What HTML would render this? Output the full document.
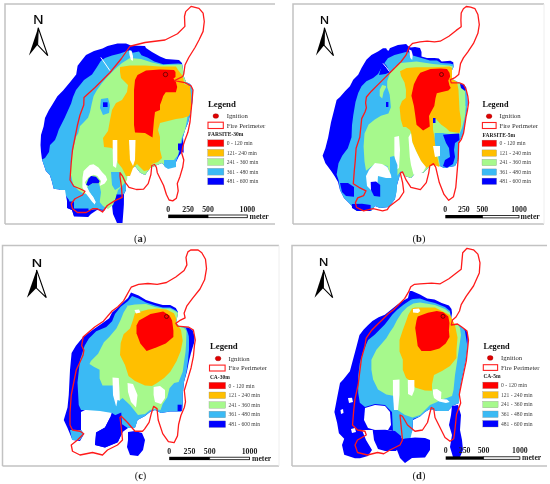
<!DOCTYPE html>
<html><head><meta charset="utf-8"><title>Fire spread simulation maps</title>
<style>html,body{margin:0;padding:0;background:#fff;width:550px;height:484px;overflow:hidden}svg{display:block;filter:blur(0.3px)}</style>
</head><body>
<svg width="550" height="484" viewBox="0 0 550 484">
<rect width="550" height="484" fill="#fff"/>
<path d="M5,224 L5,4 L275,4 M5,224 L275,224" stroke="#c2c2c2" stroke-width="1.5" fill="none"/>
<path d="M293,224 L293,4 L544,4 M293,224 L544,224" stroke="#c2c2c2" stroke-width="1.5" fill="none"/><path d="M544,4 L544,224" stroke="#eeeeee" stroke-width="1" fill="none"/>
<path d="M2.5,466 L2.5,245.5 L279,245.5 M2.5,466 L279,466" stroke="#c2c2c2" stroke-width="1.5" fill="none"/><path d="M279,245.5 L279,466" stroke="#eeeeee" stroke-width="1" fill="none"/>
<path d="M292,466 L292,245.5 L547,245.5 M292,466 L547,466" stroke="#c2c2c2" stroke-width="1.5" fill="none"/>
<polygon points="126,43.5 131,45.5 145,46 146,48 152,52 160,56.5 166,59 179,60 182,63 183,70 184,77 186,82 190,84 192,87 193,95 192,105 190,115 188,123 185,130 183,137 183.5,145 182,152 179,156 176,162 170,166 166,167.5 162,163 157,165 150,168 145,175 140,172.5 135,166 128,171 126,178 126,190 124,194 123.5,210 122.5,223 117,223 113,214 112,205 108,205 104,211 97,210 91,214 88,217 74,216 72,210 67,208 67,201 66,196 62,193 59.6,189.5 53.7,188.8 51.8,181 49.8,175 45.9,171 42,159.4 41,152 40.5,145 41,135 43.6,126.5 45,117.9 48.7,110.6 53,103.4 57.4,96.2 63.1,90.4 70.4,81.7 76.2,74.5 77.6,65.8 82,60 86,55 94,51 102.5,48.5 107.5,46 117.5,43.5" fill="#0000ff"/>
<polygon points="127,51 131,50 132.6,52.7 139,51.5 141.5,55.3 147.9,57.8 154.3,61.6 163.2,64.2 178.5,63.5 182,64 183,70 184,77 186,82 190,84 192,87 193,95 192,105 190,115 188,123 185,130 183,137 182,142 180,150 176,162 170,166 166,167.5 162,163 157,165 150,168 145,175 140,172.5 135,166 128,171 126,178 126,190 124,194 121,196 116,196 112,200 108,205 104,210 97,209 91,210 74,210 70,205 69,200 66,196 62,192 59.6,189.5 53.7,188.8 51.8,181 49.8,175 45.9,171 42,159.4 45,158 49,152 50,145 55,140 57,135 58.8,129.4 64.6,117.9 71.1,103.4 73,97 76,90 80,85 84,80 92,74.5 97,67 100.7,61 105,58 112,55.5 120,53.5" fill="#3bbaf4"/>
<polygon points="130,58 141,59 152,62.5 163,65 182,64.5 183,70 184,77 186,82 188,84 188,90 188,100 188,112 187,120 185,130 182,137 180,145 178,155 170,165 166,167 162,163 157,165 150,168 145,175 140,172.5 135,166 128,171 127,180 122,186 118,190 116,197 113,205 108,209 103,206 98,200 95,194 90,194 84,194 78,190 73,184 71,175 71,165 72,155 74,145 76,137 78.2,133.2 80,125.9 84.5,121.4 88,117.7 90,112 91.7,104 93.6,96 97,90 102,83 108,76 115,69 122,63" fill="#a6f98c"/>
<polygon points="101,99 108,98 110,105 109,113 103,115 100,108" fill="#3bbaf4"/>
<polygon points="103,102.3 107.6,102.3 107.6,107 103,107" fill="#0000ff"/>
<polygon points="120,67 130,65.5 145,65.5 160,66.5 176,66.5 178,70 182,75 183.5,79 184,84 190,86 191,95 191,110 189,116 183,118 176,119 168,121 160,123 158,130 160,137 160,150 162,158 158,162 152,164 149,170 144,171 137,164 133,168 130,176 126,176 122,168 118,163 116,155 112,148 104,147 103,138 108,131 110,120 112,110 116,103 122,100 127,92 128,85 121,78 120,72" fill="#ffbf00"/>
<polygon points="146,70.5 160,69.5 174,70 175.5,72 175.5,77 173.4,78.5 175.9,82 177.2,87.1 175.9,92.2 165.7,92.2 163.2,96 161.9,100 160,105 160,110 155,112 154,120 152.5,137.5 145,133 135,132.5 134,125 134,105 134,90 135,80 137.5,75" fill="#ff0000"/>
<polygon points="112.7,140 117.3,140 117.3,160 116,168 113,166 112.7,150" fill="#ffffff"/>
<polygon points="129,140 135.5,140 135,160 133,166 130,160" fill="#ffffff"/>
<polygon points="55,190 65,190 66,196 66,201 58,201 55,196" fill="#ffffff"/>
<polygon points="111,172 120,172 120,187 115,190 112,185" fill="#3bbaf4"/>
<polygon points="164,160 176,160 176,167 168,169 164,166" fill="#3bbaf4"/>
<polygon points="83.6,171.1 86.1,168.6 89.8,164.9 93.5,164.3 98.5,167.4 102.2,172.3 105.9,176.1 107.2,179.8 104.7,183.5 99.7,186 101,181 97.3,176.1 93.5,174.8 88.6,177.3 84.9,182.3 86.1,184.7 87.3,187.2 89.8,192.2 93.5,197.1 96,202.1 94.8,204.6 92.3,202.1 88.6,197.1 84.9,192.2 82.4,187.2 82.5,178" fill="#ffffff"/>
<polygon points="86.1,184.7 88.6,178.5 91.1,176.1 96,176.7 99.7,181 98.5,183.5 92.3,183.5 88.6,186" fill="#0000ff"/>
<polygon points="88.6,186 92.3,183.5 98.5,183.5 99.7,186 101,192.2 99.7,202.1 96,205 94.8,204.6 96,202.1 93.5,197.1 89.8,192.2 87.3,187.2" fill="#3bbaf4"/>
<polygon points="67.4,201.4 74,201.4 74,208.6 88.5,208.6 88.5,216.6 74,216.6 72,210 67.4,208" fill="#0000ff"/>
<polygon points="116.4,194.5 123.6,194.5 123.6,204 122.5,214.5 121,223 117,223 116.4,210" fill="#0000ff"/>
<polygon points="178,143.6 183.6,143.6 183.6,152.7 178,150" fill="#0000ff"/>
<path d="M100.8,57.4 L104,62 L109.9,70.6" stroke="#fff" stroke-width="1" fill="none"/>
<polygon points="129,50.5 131.5,51 133,56 133,60.7 131,60 129.5,55" fill="#ffffff"/>
<path d="M191.1,6.4 L199,8.3 L203.1,13.2 L204.3,21.5 L203.1,31.4 L199,40 L195,47.5 L188.75,57.5 L185,65 L183.75,74 L182.7,76.5 L174.5,80.7 L184.8,82.7 L191,85.8 L193,90 L192,101.3 L191,111.7 L190,122 L187.9,132.3 L184.8,140.6 L182.7,146.8 L181.7,153 L183.8,160 L182.7,167.3 L180,176.4 L177.3,183.6 L178.2,190.9 L176.4,198.2 L172.7,200.9 L169.1,200 L166.4,194.5 L163.6,185.5 L160,178.2 L157.3,172.7 L156.4,167.3 L154.5,164.5 L151.8,165.5 L150.9,174.5 L148.2,183.6 L143.6,189.1 L136.4,189.5 L129,187.3 L125.5,182.7 L122.7,176.4 L120,172.7 L120,176.4 L121.5,187.3 L122.2,197.3 L114.5,200.9 L107.3,205.5 L102.5,212 L97.5,208.75 L92.5,208.75 L86.25,212.5 L77.5,212.5 L72.5,208.75 L71.25,203.75 L75,198.75 L82.5,195 L85,191.25 L80,188.75 L73.75,186.25 L70,180 L71.25,162.5 L72.5,150 L75,137.5 L77.5,125 L80,115 L83.75,105 L84,97.5 L95,87.5 L110,72.5 L121.25,58.75 L130,46.25 L145,42.5 L165,40 L177.5,33.75 L184.9,26.4 L184.5,16.5 L185.7,11.6 Z" fill="none" stroke="#ff1a1a" stroke-width="1.3" stroke-linejoin="round"/>
<circle cx="165.5" cy="74.5" r="2.2" fill="none" stroke="#400" stroke-width="0.7"/>
<polygon points="340,97 345,91.2 349.9,86.3 353.2,79.7 358.2,74.7 361.5,68.1 366.4,59.8 371.4,54.9 378,51.6 383,48.3 389.6,48.3 397.9,45 406.1,44.1 408,46 410.7,47.5 415,47 420,48 421.5,52 421.5,56.4 427,57.9 434.5,57.9 438.8,58.6 441.7,61.5 450.4,60.7 453.3,62.2 453.5,67 452,70 452,79 459.5,83 463.6,84.5 466,89.5 467,96 467.5,103 466,116.5 463.6,133 460,140 458.5,145 458,160 455,166 444,168 440,166 437,163.6 430,166 423,173 418,170 411,178 405,176 401,171 399,178 397,185 395,199 389,207 380,208 375,206 371,211 357,211 352,206 344,198 340,190 338,182 334.7,176.2 331,170.7 325.4,163.2 322.6,155.8 325.4,148.3 328.2,137.2 331,122.3 333.8,111.2 336.6,100" fill="#0000ff"/>
<polygon points="407.8,51.6 411,55 421.5,58 430,60.5 437,60.5 441,63 450,63.5 453.5,64.5 453.5,67 452,70 452,79 459.5,83 463.6,84.5 466,89.5 467,96 467.5,103 466,116.5 463.6,133 460,140 458.5,145 458,160 455,166 444,168 440,166 437,163.6 430,166 423,173 418,170 411,178 405,176 401,171 399,178 397,185 395,199 389,207 380,208 375,206 371,211 357,211 352,206 344,198 340,190 338.5,180 336.6,174.4 338.5,163.2 342.2,155.8 347.8,148.3 351.5,137.2 352,125 353.3,115 355.5,102 358.2,92.9 361.5,86.3 366.4,81.3 373.1,78 378,74 383,65 387.9,58.2 394.5,54.9" fill="#3bbaf4"/>
<polygon points="400,63 416.5,61.4 433.1,63.9 449.6,65.5 453,66.5 452,70 452,79 459.5,83 462,85 465,90 466,96 466,103 465,116 462,128 459.5,134 450,134 440,133 437,138 437,150 440,166 437,163.6 430,166 423,173 418,170 411,178 405,176 401,171 396,177 390.8,175.5 387.3,166 375.5,163.6 366,170.7 364.5,161.4 363.6,146.5 364.5,133.5 366.1,130 368.6,124.5 374.8,119.6 381,115.8 388.4,113.4 390.9,107.2 389.7,94.8 387.2,87.3 387.2,81.2 389.7,73.7 394.5,67" fill="#a6f98c"/>
<polygon points="382.2,84.9 386,86 386,87.3 383.5,92.3 382.2,98.5 379.7,96 379.7,89.8" fill="#a6f98c"/>
<polygon points="400,71.3 406.6,68 416.5,67.2 433,67.2 449.6,66.4 452,68 452,79 457,82 458.5,90 459,100 459.5,110 461,120 461,126 459.5,133 449.6,131.4 446,128 441.3,124.8 436,119 433,121 433,129.8 434.7,138 436.4,152.9 439.5,167 434,165 429.8,166 426,168 421,161 416,151 412.3,142.3 411,132.4 410,130 406,127 403,127 400.8,119.6 399.6,107.2 402,101 405.8,98 406,90 404.5,82.4 401,76" fill="#ffbf00"/>
<polygon points="420.3,72.8 430.5,69 440.6,68.4 447,69 449.5,72.8 450.2,76.6 448.3,80.5 449.5,85.5 450.8,88.1 448.3,90.6 441.9,91.9 436.8,93.2 435.5,98.3 434.3,105.9 431,112 429,116 429.8,126.4 423.1,130.6 416.5,124.8 415.2,115 413.9,105.9 411.4,95.7 413.9,84.3 417.7,76.6" fill="#ff0000"/>
<polygon points="386,102 388.4,102 388.4,107 386,107" fill="#0000ff"/>
<polygon points="394.4,137 399,136 400,150 399,168 396,170 394.4,155" fill="#ffffff"/>
<polygon points="408.5,137.3 411,133 412.3,142.3 416,151 421,160.9 425.9,167.1 423,172 416,175 413.5,174.5 411,165 409.8,157.2" fill="#ffffff"/>
<polygon points="390,157 394,156 397.4,165 397.4,178 393,181 390,175" fill="#3bbaf4"/>
<polygon points="375,163 382,164 387.3,167 391,175 392,183 386,186 380,190 372,191 367,186 366,176 369,170" fill="#ffffff"/>
<polygon points="378,176 386,178 393,178 397,180 396.7,192 394,200 388,206 380,207 376,203 377,190" fill="#3bbaf4"/>
<polygon points="370.7,182 376,181.4 380.2,185 380.2,196.7 374,196 371,190" fill="#0000ff"/>
<polygon points="340,183 348,183 354,187 354,196.7 346,196 342,192" fill="#0000ff"/>
<polygon points="351.8,204 362,203.8 370.7,205 370.7,210.9 357,211 352,208" fill="#0000ff"/>
<polygon points="434.7,133 443,133 448,136 448,150 446,157.9 440,157 436,152 434.7,140" fill="#3bbaf4"/>
<polygon points="433,146 440,146 440,156 435,157" fill="#ffffff"/>
<polygon points="443,134.7 451,134 459,133.5 459.5,140 455,143 454,150 455,157 453,164 447,167.8 443,166 445,160 450,157 449,148 446,143" fill="#0000ff"/>
<polygon points="433,118 435.5,118 435.5,123 433,123" fill="#0000ff"/>
<polygon points="460,84 464,84.5 466.5,88 465,91 461,88" fill="#0000ff"/>
<polygon points="465,90 467,92 467.5,106 465.5,106" fill="#3bbaf4"/>
<polygon points="383,62 386,65 388.2,69.1 390.5,72 385.5,74 379,75 381,68" fill="#0000ff"/>
<path d="M383,63.4 L386.5,67.5 L389.5,71.6" stroke="#fff" stroke-width="1" fill="none"/>
<polygon points="409,49.5 411.5,50.5 412.7,55 412.2,60 410.3,58 409.5,53" fill="#ffffff"/>
<polygon points="386,48.6 388.2,50.9 390,48.5 388,47.5" fill="#ffffff"/>
<path d="M420,41.9 L427.2,41.2 L434.5,41.9 L440.2,41.2 L448.9,36.2 L456.2,30.4 L461.2,26.8 L460.9,20.2 L461.2,13 L463.4,8.7 L466.3,6.5 L470.6,7.2 L475,8.7 L477.9,14.5 L479.3,24.6 L477.9,33.3 L473.5,43.4 L467.7,52.1 L463.4,57.9 L460.5,63.6 L459.5,70 L458.7,74.6 L454.5,77.9 L450.4,79.6 L451.2,82.9 L459.5,82.9 L463.6,84.5 L466.1,89.5 L467.8,96.1 L468.6,102.7 L467.5,110 L466.1,116.5 L463.6,133 L461.2,139.7 L458.7,143 L458.2,158.9 L457,173.1 L455.8,187.3 L453.5,196.7 L448.7,200.3 L444,194.4 L439.3,182.6 L435.7,167.2 L433.4,163.6 L429.8,166 L428.7,173.1 L426.3,182.6 L420.4,189.6 L410.9,187.3 L406.2,180.2 L402.6,171.9 L400.3,173.1 L402.6,182.6 L403.8,192 L399.1,199.1 L389.6,206.2 L387.3,209.7 L382.6,210.9 L373.1,208.6 L363.6,210.9 L356.5,207.4 L355.4,202.6 L357.7,197.9 L363.6,195.6 L366,190.8 L358.9,187.3 L353.3,183.7 L354.3,170.7 L355.2,161.4 L356.1,148.3 L359.8,137.2 L361.7,118.6 L365,112 L366.4,107.8 L365.6,102.8 L366.4,97 L371.4,91.2 L378,84.6 L386.3,76.4 L392.9,69.8 L401.2,61.5 L406.1,54.9 L409.4,46.6 L412.7,43.3 Z" fill="none" stroke="#ff1a1a" stroke-width="1.3" stroke-linejoin="round"/>
<circle cx="441.5" cy="74.5" r="2" fill="none" stroke="#400" stroke-width="0.7"/>
<polygon points="131,292.5 138.6,295.5 146,300 155.3,303 162.8,305 170.2,305 175.8,308 178,312 177,318 176,323 180,326.5 188,327.5 192.5,330 194.5,336 194,343 191,353 189,361 186.9,371.7 184,382 182.7,395 182.7,405 182,411 180,411.5 170,411.5 161,413 155,410 150,412 145,416 137.5,420 135,427.5 128,428 122.5,432 118,442 105,447.5 95,445 96,432.5 105,427.5 110,418 112,412 100,410 85,410 81,412 81,430 84,434 80,441 72.5,440 67.5,428 63.75,420 67.5,407.5 68.75,395 70,370 71.6,353 75.9,345.7 83.1,337.1 94.7,328.4 103.4,322.5 109.2,318.3 112.1,312.5 117.9,307.5 123.6,302 128,298" fill="#0000ff"/>
<polygon points="132,296 138.6,298.5 146,302.5 155.3,305.5 162.8,307.5 170.2,307.5 175,310 178,312 177,318 176,323 180,326.5 186,327.5 188.5,331 189,340 189,350 188,361 186.5,371.7 184,382 182.7,395 182.7,405 182,411 180,411.5 170,411.5 161,413 155,410 150,412 145,416 137.5,420 135,427.5 128,428 122,424 118,417 112,413 100,411 86,410 81,410 78.75,405 77.5,382.5 80,360 81.7,355 84.6,345.7 88.9,338.5 96.2,331.3 106.3,327 112.1,321.2 115,313.9 120.7,306.7 128,300.9" fill="#3bbaf4"/>
<polygon points="126,306 135,304.5 146,304 155,307 163,308.5 170,308.5 175,311 178,313 177,318 176,323 180,327 184,328 186.5,331 186,345 185.5,352 184,362 182.7,371.7 178.6,382 174.1,383 169.5,388.2 167.3,397.3 162.7,404.1 160.5,410 155,409 150,410 145,414 138,415 130,405 122.5,398 118.4,401.5 115.5,385 112.6,385.6 102.5,385.6 99.6,378.4 99.6,369.7 93.8,366.8 89.5,363.9 90.9,361 98.1,353.8 103.9,342.2 109.2,337.1 116.4,328.4 120.7,319.7 123.6,312.5 128,305.2" fill="#a6f98c"/>
<polygon points="134.9,313.2 147.9,309.5 157.2,308.6 166.5,309.5 173.9,313.2 176,318 176,323 179,327 181,330 182.7,340.7 180.7,351 176.5,361.3 170.3,371.7 164.1,377.9 157,383 152,386 145,385.5 135,381 128.5,376 125,365 120,355 120.7,343 123.6,334.2 130,328.4 133,320" fill="#ffbf00"/>
<polygon points="139,320.5 150.5,314.1 163.2,311.5 169.5,315.4 172.1,320.5 173.4,330.6 173.4,337 165.7,343.4 156.8,347.2 146.6,351 140.3,343.4 136.5,333.2 136.5,325.5" fill="#ff0000"/>
<polygon points="112.5,377.5 118.75,378 119.5,392 120,407.5 116,406 113,395" fill="#ffffff"/>
<polygon points="127.5,383 133,384 137.5,395 136,407.5 131,402 128,392" fill="#ffffff"/>
<polygon points="153.6,387 160,386 165,390 165,398 161,404 155,402 153.6,395" fill="#ffffff"/>
<polygon points="134.5,310 139,309.5 140.5,312.5 136,313.5" fill="#ffffff"/>
<polygon points="70,430 81,430 84,434 80,440 72,440" fill="#3bbaf4"/>
<polygon points="117.5,400 124,402 130,407 136,414 137.5,420 135,427.5 128,428 122,424 118,417 116,408" fill="#3bbaf4"/>
<polygon points="110,417.5 121.25,412.5 122.5,432.5 117.5,442.5 105,447.5 95,445 96.25,432.5 105,427.5" fill="#0000ff"/>
<polygon points="128,432 135,431 142,433 145,440 143,450 138,456 130,455 127,447 128,440" fill="#0000ff"/>
<polygon points="177.6,404.7 181.7,404.7 181.7,411 177.6,411" fill="#0000ff"/>
<polygon points="186,328 190,328.5 191,333 189,336" fill="#0000ff"/>
<polygon points="192,338 194.5,337 194,343 192,344" fill="#0000ff"/>
<polygon points="189.5,345 191.5,345 191,353 189,352" fill="#0000ff"/>
<path d="M130,289.3 L131.2,287.2 L138.6,284.4 L147.9,283.5 L157.2,284.4 L166.5,282.5 L175.8,277 L184.1,270.5 L186.9,264.9 L186,257.4 L187.9,251.9 L190.7,250 L198.1,250 L201.8,252.8 L205.5,259.3 L206.5,268.6 L204.6,279.8 L200,289 L192.5,298.3 L186.9,305.8 L184.1,313.2 L185.1,317.9 L179.5,320.7 L175.8,323.4 L177.6,326.2 L188.8,327.2 L193.4,330 L195.3,340 L194.5,345 L193.4,356.4 L191.1,367.7 L187.7,379.1 L184.3,390.5 L185.5,401.8 L184.3,407.5 L180.9,415.5 L178.6,424.5 L177.5,435.9 L174.1,442.7 L168.4,441.6 L162.7,433.6 L158.2,420 L157,408.6 L153.6,406.4 L151.4,413.2 L149.1,422.3 L144.5,429.1 L142.5,431.25 L135,431.25 L127.5,422.5 L121.25,416.25 L120,417.5 L121.25,427.5 L122.5,440 L117.5,445 L107.5,450 L102.5,455 L92.5,452.5 L80,455 L72.5,451.25 L71.25,445 L77.5,440 L83.75,433.75 L80,431.25 L72.5,430 L70,425 L70,412.5 L71.25,395 L73.75,382.5 L76.25,370 L80,362 L83.1,355 L83.9,350.1 L81.7,345.7 L83.1,337.1 L94.7,327 L103.4,321.2 L112.1,311 L117.9,306.7 L123.6,300.9 Z" fill="none" stroke="#ff1a1a" stroke-width="1.3" stroke-linejoin="round"/>
<circle cx="166.5" cy="316.5" r="2" fill="none" stroke="#400" stroke-width="0.7"/>
<polygon points="409.6,291 412,291 420,294.5 427.2,298.4 434.5,299.5 441.7,303 448.9,305.5 451.5,309 452,313 451,320 453,324 458,324.5 463,328 466,330 468,334 467.5,347 465.5,361 461.5,380 459,394 459,403 453,405.5 448,411 439.5,411 437,411 430,409 425,412 420,416.5 413,420 412.5,430 408,440 402,441 396,432 390,430 368,430 362,430 366,440 372,450 368,456 360,458.2 354.9,458.2 344.2,454.7 342,445 344.2,438.7 338.9,433.3 337.1,422.7 334.4,412 337.1,397.8 340,383 343.3,379.6 349.9,371.3 356.5,346.5 359.5,335 363.7,329.6 367.4,325.8 372.4,320.9 378.6,317.2 384.8,314.7 391,309.7 397.2,304.8 403.4,300.4 408,298" fill="#0000ff"/>
<polygon points="410.8,299.8 413,299 420,298.6 427,301 435,303 445,307 450,311 451,320 453,324 458,324.5 463,328 465,331 467.5,347 465.5,361 461.5,380 459,394 459,403 453,405.5 448,411 439.5,411 437,411 430,409 425,412 420,416.5 413,419 412.5,430 410,440 404,440 393,432 392,412 385,405 375,404 365,407 359.8,402.7 358.2,392.8 358.2,376.3 359.8,363 363.1,351.5 368.1,339.9 374.9,334.5 379.8,329.6 384.8,324.6 388.5,319.7 392.2,314.7 397.2,309.7 403.4,304.8" fill="#3bbaf4"/>
<polygon points="413.3,303.5 420,302.5 435,305 445,309 450,313 451,320 453,324 458,324.5 460,328 461,335 459,348 457,362 455,375 453.5,390 452,396 447,398 440,400 437,402 430,405 425,410 420,415 412.5,417.5 405,415 397.5,410 394.5,396.1 386.3,394.5 378,389.5 373.1,379.6 371.4,369.7 371.4,359.8 376.4,349.8 386.3,338.3 390,332 393.5,327.1 397.2,319.7 402.1,312.2 407.1,307.3" fill="#a6f98c"/>
<polygon points="412,308.5 415,307.5 435,307.5 450,315 455,325 457.5,337.5 456.5,350 456.5,358 450,366 442,371 434,375 432,384.3 432,390.8 425,390.5 415,387.5 411.1,381.2 406.1,377.9 402.8,369.7 402.8,359.8 399.5,351.5 399.5,339.9 402.8,330 405.8,322.1 408.3,314.7" fill="#ffbf00"/>
<polygon points="417.7,316.6 427.9,312.8 436.8,310.9 443.2,312.2 448.3,316.6 449.5,323 448.9,330.6 449.5,337 445.7,343.4 439.4,348.5 430.5,351 421.5,351 417.7,345.9 416.5,337 415.2,328.1 416.5,320.5" fill="#ff0000"/>
<polygon points="413,309 419,308.5 420.3,311 418,313 413,312.5" fill="#ffffff"/>
<polygon points="392.9,380 399.5,379.6 399.5,395 398,410 394,410 393,395" fill="#ffffff"/>
<polygon points="407.8,380 414.4,380 414.4,390 412,396.1 408,394" fill="#ffffff"/>
<polygon points="365,408 375,405 385,406 390,412 391,425 388,430 375,430 368,428 364,420" fill="#ffffff"/>
<polygon points="433,389.5 437,389 441.4,392 441,399 447,399.5 449.7,402 446,403 439,401.5 434,398 433,394" fill="#ffffff"/>
<polygon points="372.7,430 385,429.8 395,431 401,436 401.1,445 396,451 385,451 378,449 374,440" fill="#0000ff"/>
<polygon points="397,441 405,438.5 415,437.5 425,438 430,440 430,450 425,457.5 412,458 405,463 400,458 397,450" fill="#0000ff"/>
<polygon points="348,398 352,397.8 353,402 349,403" fill="#ffffff"/>
<polygon points="351,429 355,428 356,432 352,433" fill="#ffffff"/>
<polygon points="340.5,410 343,409 343.5,413 341,414" fill="#ffffff"/>
<polygon points="452,406 458,405 461,415 460,430 462,440 463,450 460,457 453,457 450,447 452,435 449,425 451,415" fill="#0000ff"/>
<path d="M420,283.8 L431.6,283.1 L440.2,283.8 L448.9,278.7 L461.2,269.3 L461.9,261.4 L462.7,252.7 L467,248.3 L473.5,249.8 L477.9,254.1 L480,262.8 L479.3,272.9 L473.5,286 L466.3,296.1 L461.2,304.7 L459.5,311 L456,317 L452.5,320 L451.25,325 L457.5,324 L462.5,327.5 L467,331 L468.5,340 L467.8,346.9 L466.3,360.9 L462.1,380.6 L459.3,394.6 L460.7,403 L456.5,414.3 L455.1,428.3 L453.75,438.75 L450,441.25 L445,437.5 L440,427.5 L435,417.5 L433.75,408.75 L431.25,407.5 L430,412.5 L427.5,422.5 L422.5,430 L415,431.25 L407.5,425 L402.5,416.25 L400,415 L401.25,427.5 L402.5,440 L400,445 L390,450 L383.75,453.75 L377.5,452.5 L367.5,455 L357.5,452.5 L355,445 L357.5,440 L366.25,435 L365,431.25 L357.5,430 L352.5,425 L353.75,410 L354.9,399.4 L358.2,384.5 L359.8,371.3 L361.5,358.1 L364.8,346.5 L366.2,338.2 L371.2,330.8 L376.1,325.8 L382.3,319.7 L388.5,313.5 L393.5,309.7 L399.7,303.5 L404.6,298.6 L408.3,292.4 L410.8,286.8 L414.5,284.3 Z" fill="none" stroke="#ff1a1a" stroke-width="1.3" stroke-linejoin="round"/>
<circle cx="443" cy="316.3" r="2" fill="none" stroke="#400" stroke-width="0.7"/>
<text x="33.300000000000004" y="24.3" font-family="Liberation Sans, sans-serif" font-size="12.3" fill="#000" stroke="#000" stroke-width="0.2" textLength="10.1" lengthAdjust="spacingAndGlyphs">N</text><path d="M38.2,27.7 L28.9,55.6 L37.6,44.8 Z" fill="#000"/><path d="M38.2,27.7 L47.8,55.6 L37.6,44.8 Z" fill="none" stroke="#000" stroke-width="1.1" stroke-linejoin="miter"/>
<text x="320.1" y="24.1" font-family="Liberation Sans, sans-serif" font-size="11.2" fill="#000" stroke="#000" stroke-width="0.2" textLength="9.0" lengthAdjust="spacingAndGlyphs">N</text><path d="M324.4,27.7 L315.9,55.6 L324.1,45.3 Z" fill="#000"/><path d="M324.4,27.7 L333.5,55.6 L324.1,45.3 Z" fill="none" stroke="#000" stroke-width="1.1" stroke-linejoin="miter"/>
<text x="31.700000000000003" y="266.5" font-family="Liberation Sans, sans-serif" font-size="11.6" fill="#000" stroke="#000" stroke-width="0.2" textLength="10.4" lengthAdjust="spacingAndGlyphs">N</text><path d="M36.6,269.9 L26.9,297.7 L36.4,288.1 Z" fill="#000"/><path d="M36.6,269.9 L46.3,297.7 L36.4,288.1 Z" fill="none" stroke="#000" stroke-width="1.1" stroke-linejoin="miter"/>
<text x="319.0" y="266.3" font-family="Liberation Sans, sans-serif" font-size="11.3" fill="#000" stroke="#000" stroke-width="0.2" textLength="9.2" lengthAdjust="spacingAndGlyphs">N</text><path d="M323.5,269.9 L314.5,297.7 L323.3,288.1 Z" fill="#000"/><path d="M323.5,269.9 L332.7,297.7 L323.3,288.1 Z" fill="none" stroke="#000" stroke-width="1.1" stroke-linejoin="miter"/>
<text x="208" y="107" font-family="Liberation Serif, serif" font-weight="bold" font-size="8.8" fill="#111">Legend</text><ellipse cx="215.8" cy="116" rx="2.8" ry="2.3" fill="#e00000" stroke="#900" stroke-width="0.4"/><text x="226.7" y="118.2" font-family="Liberation Serif, serif" font-size="6.7" fill="#333">Ignition</text><rect x="208.0" y="122.2" width="15.300000000000011" height="6.299999999999997" fill="#fff" stroke="#ff2020" stroke-width="1.1"/><text x="226.7" y="127.55" font-family="Liberation Serif, serif" font-size="6.7" fill="#333">Fire Perimeter</text><text x="208" y="136.4" font-family="Liberation Serif, serif" font-weight="bold" font-size="5.5" fill="#222">FARSITE-30m</text><rect x="207.7" y="139.8" width="16.200000000000017" height="6.8" fill="#ff0000" stroke="#888" stroke-width="0.3"/><text x="226.7" y="145.10000000000002" font-family="Liberation Serif, serif" font-size="5.6" fill="#444">0 - 120 min</text><rect x="207.7" y="149.4" width="16.200000000000017" height="6.8" fill="#ffbf00" stroke="#888" stroke-width="0.3"/><text x="226.7" y="154.70000000000002" font-family="Liberation Serif, serif" font-size="5.6" fill="#444">121- 240 min</text><rect x="207.7" y="158.6" width="16.200000000000017" height="6.8" fill="#a6f98c" stroke="#888" stroke-width="0.3"/><text x="226.7" y="163.9" font-family="Liberation Serif, serif" font-size="5.6" fill="#444">241 - 360 min</text><rect x="207.7" y="168.3" width="16.200000000000017" height="6.8" fill="#3bbaf4" stroke="#888" stroke-width="0.3"/><text x="226.7" y="173.60000000000002" font-family="Liberation Serif, serif" font-size="5.6" fill="#444">361 - 480 min</text><rect x="207.7" y="178" width="16.200000000000017" height="6.8" fill="#0000ff" stroke="#888" stroke-width="0.3"/><text x="226.7" y="183.3" font-family="Liberation Serif, serif" font-size="5.6" fill="#444">481 - 600 min</text>
<text x="482.5" y="107.2" font-family="Liberation Serif, serif" font-weight="bold" font-size="8.2" fill="#111">Legend</text><ellipse cx="489.1" cy="116.2" rx="2.8" ry="2.3" fill="#e00000" stroke="#900" stroke-width="0.4"/><text x="499.5" y="118.4" font-family="Liberation Serif, serif" font-size="6.7" fill="#333">Ignition</text><rect x="482.4" y="122.5" width="13.700000000000045" height="6" fill="#fff" stroke="#ff2020" stroke-width="1.1"/><text x="499.5" y="127.7" font-family="Liberation Serif, serif" font-size="6.7" fill="#333">Fire Perimeter</text><text x="482.5" y="136.70000000000002" font-family="Liberation Serif, serif" font-weight="bold" font-size="5.5" fill="#222">FARSITE-5m</text><rect x="482" y="140.1" width="14.600000000000023" height="6.4" fill="#ff0000" stroke="#888" stroke-width="0.3"/><text x="499.5" y="145.2" font-family="Liberation Serif, serif" font-size="5.6" fill="#444">0 - 120 min</text><rect x="482" y="149.9" width="14.600000000000023" height="6.4" fill="#ffbf00" stroke="#888" stroke-width="0.3"/><text x="499.5" y="155.0" font-family="Liberation Serif, serif" font-size="5.6" fill="#444">121 - 240 min</text><rect x="482" y="159.3" width="14.600000000000023" height="6.4" fill="#a6f98c" stroke="#888" stroke-width="0.3"/><text x="499.5" y="164.4" font-family="Liberation Serif, serif" font-size="5.6" fill="#444">241 - 360 min</text><rect x="482" y="168.9" width="14.600000000000023" height="6.4" fill="#3bbaf4" stroke="#888" stroke-width="0.3"/><text x="499.5" y="174.0" font-family="Liberation Serif, serif" font-size="5.6" fill="#444">361 - 480 min</text><rect x="482" y="178.1" width="14.600000000000023" height="6.4" fill="#0000ff" stroke="#888" stroke-width="0.3"/><text x="499.5" y="183.2" font-family="Liberation Serif, serif" font-size="5.6" fill="#444">481 - 600 min</text>
<text x="209.9" y="349" font-family="Liberation Serif, serif" font-weight="bold" font-size="8.8" fill="#111">Legend</text><ellipse cx="218.1" cy="358.5" rx="2.8" ry="2.3" fill="#e00000" stroke="#900" stroke-width="0.4"/><text x="228.5" y="360.7" font-family="Liberation Serif, serif" font-size="6.7" fill="#333">Ignition</text><rect x="209.5" y="365.1" width="15.599999999999994" height="5.899999999999977" fill="#fff" stroke="#ff2020" stroke-width="1.1"/><text x="228.5" y="370.25" font-family="Liberation Serif, serif" font-size="6.7" fill="#333">Fire Perimeter</text><text x="209.9" y="379.0" font-family="Liberation Serif, serif" font-weight="bold" font-size="5.5" fill="#222">CA-30m</text><rect x="209" y="382.3" width="16.599999999999994" height="6.6" fill="#ff0000" stroke="#888" stroke-width="0.3"/><text x="228.5" y="387.5" font-family="Liberation Serif, serif" font-size="5.6" fill="#444">0 - 120 min</text><rect x="209" y="392" width="16.599999999999994" height="6.6" fill="#ffbf00" stroke="#888" stroke-width="0.3"/><text x="228.5" y="397.2" font-family="Liberation Serif, serif" font-size="5.6" fill="#444">121 - 240 min</text><rect x="209" y="401.7" width="16.599999999999994" height="6.6" fill="#a6f98c" stroke="#888" stroke-width="0.3"/><text x="228.5" y="406.9" font-family="Liberation Serif, serif" font-size="5.6" fill="#444">241 - 360 min</text><rect x="209" y="411.2" width="16.599999999999994" height="6.6" fill="#3bbaf4" stroke="#888" stroke-width="0.3"/><text x="228.5" y="416.4" font-family="Liberation Serif, serif" font-size="5.6" fill="#444">361 - 480 min</text><rect x="209" y="420.9" width="16.599999999999994" height="6.6" fill="#0000ff" stroke="#888" stroke-width="0.3"/><text x="228.5" y="426.09999999999997" font-family="Liberation Serif, serif" font-size="5.6" fill="#444">481 - 600 min</text>
<text x="483.4" y="348.6" font-family="Liberation Serif, serif" font-weight="bold" font-size="8.3" fill="#111">Legend</text><ellipse cx="490.2" cy="357.9" rx="2.8" ry="2.3" fill="#e00000" stroke="#900" stroke-width="0.4"/><text x="501" y="360.09999999999997" font-family="Liberation Serif, serif" font-size="6.7" fill="#333">Ignition</text><rect x="483.3" y="364.7" width="14.300000000000011" height="5.699999999999989" fill="#fff" stroke="#ff2020" stroke-width="1.1"/><text x="501" y="369.74999999999994" font-family="Liberation Serif, serif" font-size="6.7" fill="#333">Fire Perimeter</text><text x="483.4" y="378.4" font-family="Liberation Serif, serif" font-weight="bold" font-size="5.5" fill="#222">CA-5m</text><rect x="482.8" y="382.1" width="15.300000000000011" height="6.5" fill="#ff0000" stroke="#888" stroke-width="0.3"/><text x="501" y="387.25" font-family="Liberation Serif, serif" font-size="5.6" fill="#444">0 - 120 min</text><rect x="482.8" y="391.6" width="15.300000000000011" height="6.5" fill="#ffbf00" stroke="#888" stroke-width="0.3"/><text x="501" y="396.75" font-family="Liberation Serif, serif" font-size="5.6" fill="#444">121 - 240 min</text><rect x="482.8" y="401.3" width="15.300000000000011" height="6.5" fill="#a6f98c" stroke="#888" stroke-width="0.3"/><text x="501" y="406.45" font-family="Liberation Serif, serif" font-size="5.6" fill="#444">241 - 360 min</text><rect x="482.8" y="411" width="15.300000000000011" height="6.5" fill="#3bbaf4" stroke="#888" stroke-width="0.3"/><text x="501" y="416.15" font-family="Liberation Serif, serif" font-size="5.6" fill="#444">361 - 480 min</text><rect x="482.8" y="420.5" width="15.300000000000011" height="6.5" fill="#0000ff" stroke="#888" stroke-width="0.3"/><text x="501" y="425.65" font-family="Liberation Serif, serif" font-size="5.6" fill="#444">481 - 600 min</text>
<rect x="168.2" y="214.6" width="39.80000000000001" height="3.5" fill="#000"/><rect x="208" y="215.0" width="39.30000000000001" height="2.7" fill="#fff" stroke="#000" stroke-width="0.8"/><text x="168.2" y="211.79999999999998" font-family="Liberation Serif, serif" font-weight="bold" font-size="7.8" fill="#222" text-anchor="middle">0</text><text x="188.1" y="211.79999999999998" font-family="Liberation Serif, serif" font-weight="bold" font-size="7.8" fill="#222" text-anchor="middle">250</text><text x="208" y="211.79999999999998" font-family="Liberation Serif, serif" font-weight="bold" font-size="7.8" fill="#222" text-anchor="middle">500</text><text x="247.3" y="211.79999999999998" font-family="Liberation Serif, serif" font-weight="bold" font-size="7.8" fill="#222" text-anchor="middle">1000</text><text x="249.5" y="218.6" font-family="Liberation Serif, serif" font-weight="bold" font-size="7.7" fill="#222">meter</text>
<rect x="445.3" y="215" width="37.099999999999966" height="3.3000000000000114" fill="#000"/><rect x="482.4" y="215.4" width="36.60000000000002" height="2.5000000000000115" fill="#fff" stroke="#000" stroke-width="0.8"/><text x="445.3" y="211.79999999999998" font-family="Liberation Serif, serif" font-weight="bold" font-size="7.8" fill="#222" text-anchor="middle">0</text><text x="463.85" y="211.79999999999998" font-family="Liberation Serif, serif" font-weight="bold" font-size="7.8" fill="#222" text-anchor="middle">250</text><text x="482.4" y="211.79999999999998" font-family="Liberation Serif, serif" font-weight="bold" font-size="7.8" fill="#222" text-anchor="middle">500</text><text x="519" y="211.79999999999998" font-family="Liberation Serif, serif" font-weight="bold" font-size="7.8" fill="#222" text-anchor="middle">1000</text><text x="520.5" y="218.79999999999998" font-family="Liberation Serif, serif" font-weight="bold" font-size="7.7" fill="#222">meter</text>
<rect x="169.2" y="456.8" width="40.5" height="3.3000000000000114" fill="#000"/><rect x="209.7" y="457.2" width="39.80000000000001" height="2.5000000000000115" fill="#fff" stroke="#000" stroke-width="0.8"/><text x="169.2" y="454.0" font-family="Liberation Serif, serif" font-weight="bold" font-size="7.8" fill="#222" text-anchor="middle">0</text><text x="189.45" y="454.0" font-family="Liberation Serif, serif" font-weight="bold" font-size="7.8" fill="#222" text-anchor="middle">250</text><text x="209.7" y="454.0" font-family="Liberation Serif, serif" font-weight="bold" font-size="7.8" fill="#222" text-anchor="middle">500</text><text x="249.5" y="454.0" font-family="Liberation Serif, serif" font-weight="bold" font-size="7.8" fill="#222" text-anchor="middle">1000</text><text x="252" y="460.8" font-family="Liberation Serif, serif" font-weight="bold" font-size="7.7" fill="#222">meter</text>
<rect x="445.7" y="456.4" width="37.80000000000001" height="3.3000000000000114" fill="#000"/><rect x="483.5" y="456.79999999999995" width="36.39999999999998" height="2.5000000000000115" fill="#fff" stroke="#000" stroke-width="0.8"/><text x="445.7" y="453.3" font-family="Liberation Serif, serif" font-weight="bold" font-size="7.8" fill="#222" text-anchor="middle">0</text><text x="464.6" y="453.3" font-family="Liberation Serif, serif" font-weight="bold" font-size="7.8" fill="#222" text-anchor="middle">250</text><text x="483.5" y="453.3" font-family="Liberation Serif, serif" font-weight="bold" font-size="7.8" fill="#222" text-anchor="middle">500</text><text x="519.9" y="453.3" font-family="Liberation Serif, serif" font-weight="bold" font-size="7.8" fill="#222" text-anchor="middle">1000</text><text x="522" y="460.4" font-family="Liberation Serif, serif" font-weight="bold" font-size="7.7" fill="#222">meter</text>
<text x="140.2" y="242.3" font-family="Liberation Serif, serif" font-size="10.5" fill="#222" text-anchor="middle">(<tspan font-weight="bold">a</tspan>)</text>
<text x="419" y="242.1" font-family="Liberation Serif, serif" font-size="10.5" fill="#222" text-anchor="middle">(<tspan font-weight="bold">b</tspan>)</text>
<text x="140.5" y="479" font-family="Liberation Serif, serif" font-size="10.5" fill="#222" text-anchor="middle">(<tspan font-weight="bold">c</tspan>)</text>
<text x="419" y="479" font-family="Liberation Serif, serif" font-size="10.5" fill="#222" text-anchor="middle">(<tspan font-weight="bold">d</tspan>)</text>
</svg>
</body></html>
